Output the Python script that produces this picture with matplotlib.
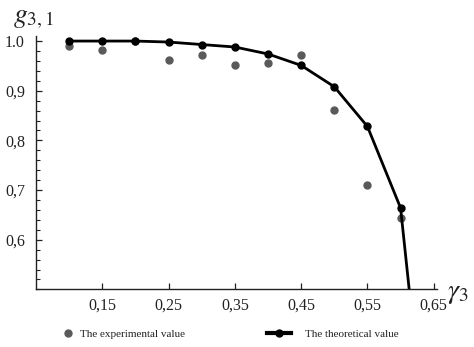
import matplotlib
matplotlib.use("Agg")
import matplotlib.pyplot as plt
from matplotlib.lines import Line2D
from matplotlib.ticker import FixedLocator, MultipleLocator

plt.rcParams["font.family"] = ["Liberation Serif", "DejaVu Serif"]
plt.rcParams["mathtext.fontset"] = "stix"

# Theoretical curve g_{3,1}(gamma_3); the last point is where the curve leaves the plotted range
gamma_theory = [0.10, 0.15, 0.20, 0.25, 0.30, 0.35, 0.40, 0.45, 0.50, 0.55, 0.60, 0.613]
g_theory = [1.000, 1.000, 1.000, 0.998, 0.993, 0.988, 0.974, 0.951, 0.908, 0.828, 0.664, 0.500]
n_theory_markers = 11

# Measured values
gamma_exp = [0.10, 0.15, 0.20, 0.25, 0.30, 0.35, 0.40, 0.45, 0.50, 0.55, 0.60]
g_exp = [0.990, 0.982, 1.000, 0.961, 0.972, 0.951, 0.956, 0.972, 0.861, 0.711, 0.643]

x_ticks = [0.15, 0.25, 0.35, 0.45, 0.55, 0.65]
x_tick_labels = ["0,15", "0,25", "0,35", "0,45", "0,55", "0,65"]
y_ticks = [0.6, 0.7, 0.8, 0.9, 1.0]
y_tick_labels = ["0,6", "0,7", "0,8", "0,9", "1.0"]

exp_label = "The experimental value"
theory_label = "The theoretical value"

fig = plt.figure(figsize=(4.74, 3.47), dpi=100)
ax = fig.add_axes([0.076, 0.166, 0.846, 0.730])

ax.plot(gamma_exp, g_exp, linestyle="none", marker="o", markersize=5,
        color="#5a5a5a", zorder=2)
ax.plot(gamma_theory, g_theory, color="black", linewidth=2.0,
        marker="o", markersize=5, markevery=list(range(n_theory_markers)),
        zorder=3, clip_on=True)

ax.set_xlim(0.05, 0.655)
ax.set_ylim(0.5, 1.01)

for side in ("top", "right"):
    ax.spines[side].set_visible(False)
for side in ("left", "bottom"):
    ax.spines[side].set_color("#222222")
    ax.spines[side].set_linewidth(1.0)

ax.xaxis.set_major_locator(FixedLocator(x_ticks))
ax.set_xticklabels(x_tick_labels)
ax.yaxis.set_major_locator(FixedLocator(y_ticks))
ax.set_yticklabels(y_tick_labels)
ax.yaxis.set_minor_locator(MultipleLocator(0.02))

ax.tick_params(axis="both", which="major", direction="in", length=4,
               width=0.9, color="#222222", labelsize=11.5, labelcolor="#222222")
ax.tick_params(axis="x", which="major", pad=6)
ax.tick_params(axis="y", which="major", pad=8)
ax.tick_params(axis="y", which="minor", direction="in", length=3,
               width=0.8, color="#222222")

fig.text(0.028, 0.935, r"$g_{3,1}$", fontsize=20, color="#222222",
         ha="left", va="baseline")
fig.text(0.942, 0.142, r"$\gamma_3$", fontsize=20, color="#222222",
         ha="left", va="baseline")

h_exp = Line2D([], [], linestyle="none", marker="o", markersize=5,
               color="#5a5a5a")
h_theory = Line2D([], [], color="black", linewidth=3, marker="o",
                  markersize=5)

leg1 = fig.legend([h_exp], [exp_label], loc="center left",
                  bbox_to_anchor=(0.132, 0.037), frameon=False, fontsize=8,
                  handlelength=1.0, handletextpad=0.6, borderpad=0,
                  borderaxespad=0)
leg2 = fig.legend([h_theory], [theory_label], loc="center left",
                  bbox_to_anchor=(0.563, 0.037), frameon=False, fontsize=8,
                  handlelength=2.2, handletextpad=1.2, borderpad=0,
                  borderaxespad=0)
for leg in (leg1, leg2):
    for t in leg.get_texts():
        t.set_color("#222222")

fig.savefig("out.png", dpi=100)
